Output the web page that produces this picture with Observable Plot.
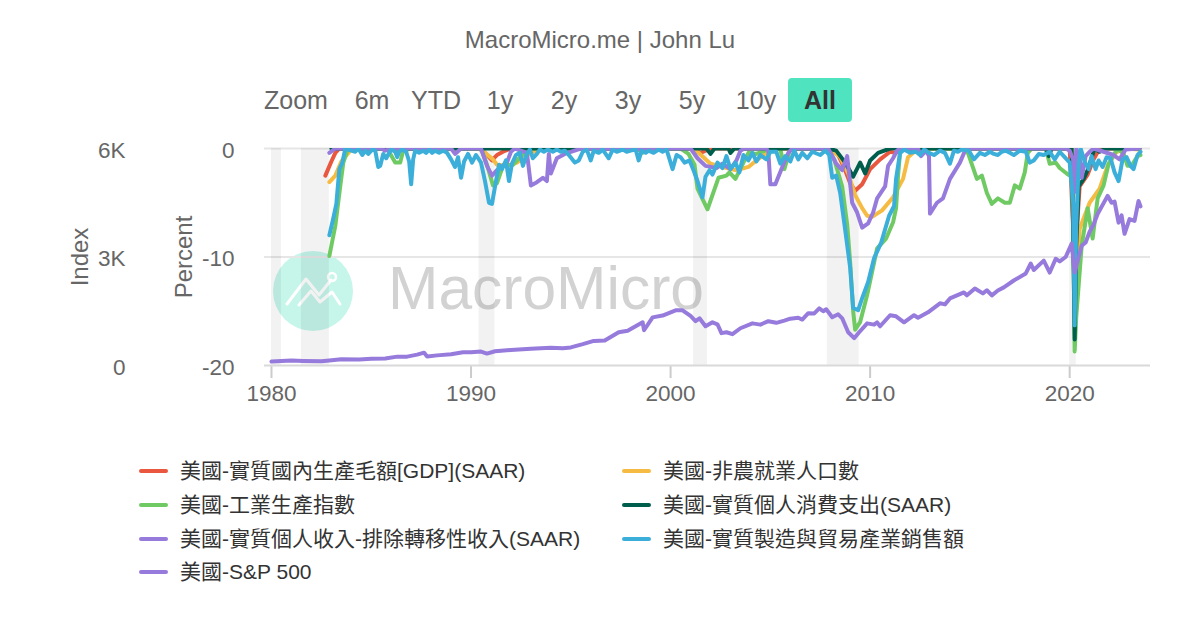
<!DOCTYPE html>
<html><head><meta charset="utf-8">
<script src="https://cdn.jsdelivr.net/npm/d3@7"></script>
<script src="https://cdn.jsdelivr.net/npm/@observablehq/plot@0.6"></script>
<style>
html,body{margin:0;padding:0;background:#fff}
body{position:relative;width:1200px;height:630px;overflow:hidden;font-family:"Liberation Sans","Noto Sans CJK TC",sans-serif;color:#666}
#title{position:absolute;left:0;width:1200px;top:26px;text-align:center;font-size:24px;line-height:28px}
.btn{position:absolute;top:78px;height:44px;line-height:44px;font-size:25px;text-align:center;width:64px}
.btn.on{background:#4fe3c0;color:#333;font-weight:bold;border-radius:4px}
#wm{position:absolute;left:0;top:0}
#chart{position:absolute;left:0;top:130px}
.lg{position:absolute;font-size:21px;line-height:24px;color:#333;white-space:nowrap}
.sw{position:absolute;width:29px;height:4px;border-radius:2px}
</style></head><body>
<div id="title">MacroMicro.me | John Lu</div>
<div id="btns"></div>
<svg id="wm" width="1200" height="630">
  <circle cx="313" cy="291" r="40" fill="#c6f5ea"/>
  <path d="M287 304 L306 279 L319 295 L331 280 M299 305 L311 291 L320 302 L332 292 L340 304" fill="none" stroke="#fff" stroke-width="3" stroke-linecap="round" stroke-linejoin="round"/>
  <circle cx="332" cy="277" r="4" fill="none" stroke="#fff" stroke-width="2.5"/>
  <text x="388" y="309" font-size="60.5" fill="#d2d2d2" font-family="Liberation Sans">MacroMicro</text>
</svg>
<div id="chart"></div>
<div id="legend"></div>
<script>
const seriesNames = ["美國-實質國內生產毛額[GDP](SAAR)","美國-非農就業人口數","美國-工業生產指數","美國-實質個人消費支出(SAAR)","美國-實質個人收入-排除轉移性收入(SAAR)","美國-實質製造與貿易產業銷售額","美國-S&P 500"];
const seriesColors = ["#e9573f","#f6bb42","#70ca63","#005e4d","#967adc","#3bafda","#967adc"];
const rangeButtons = ["6m","YTD","1y","2y","3y","5y","10y","All"];
const xTicks = [1980,1990,2000,2010,2020];
const recessions = [[1980,1980.5],[1981.5,1982.9],[1990.4,1991.2],[2001.15,2001.85],[2007.85,2009.45],[2020,2020.33]];

const gdp = [[1982.7,-2.5],[1983,-1.2],[1983.2,-0.4],[1983.4,0],[1990.4,0],[1990.7,-0.4],[1991.05,-1.1],[1991.3,-0.6],[1991.6,-0.3],[1992,0],[2001,0],[2001.5,-0.4],[2002,0],[2008,0],[2008.4,-0.6],[2008.75,-2],[2009,-3.2],[2009.25,-3.9],[2009.6,-3.3],[2010,-1.9],[2010.5,-1],[2011,-0.3],[2011.25,-0.4],[2011.7,-0.1],[2012,0],[2020,0],[2020.25,-10.5],[2020.5,-3.5],[2020.9,-2.4],[2021.2,-1],[2021.5,0],[2023.5,0]];
const payrolls = [[1982.9,-3.1],[1983.2,-2.5],[1983.5,-1.2],[1984,-0.1],[1984.3,0],[1990.4,0],[1990.7,-0.4],[1991.1,-1],[1991.3,-1.5],[1991.8,-1.6],[1992.3,-1.3],[1992.9,-0.5],[1993.5,0],[2001,0],[2001.4,-0.4],[2002,-1.4],[2002.6,-1.7],[2003.3,-2],[2003.9,-1.7],[2004.3,-1.1],[2004.8,-0.4],[2005.3,0],[2008,0],[2008.5,-0.8],[2008.9,-2.3],[2009.25,-4.3],[2009.6,-5.5],[2009.85,-6.2],[2010.1,-6.3],[2010.6,-5.7],[2011.15,-4.5],[2011.65,-2.8],[2011.9,-0.8],[2012.4,0],[2020.1,0],[2020.25,-14.5],[2020.4,-11],[2020.5,-7.4],[2021,-5],[2021.5,-3.7],[2021.9,-1.6],[2022.3,-0.4],[2022.7,0],[2023.5,-0.1]];
const indpro = [[1982.9,-9.9],[1983.2,-7.1],[1983.45,-3.4],[1983.6,-1.3],[1983.8,-0.2],[1984,0],[1985.8,0],[1986.2,-1.3],[1986.45,-1.3],[1986.6,-0.2],[1987,0],[1990.5,0],[1990.8,-1.5],[1991.1,-3.4],[1991.3,-3.2],[1991.6,-1.6],[1992.1,-1.5],[1992.5,-0.7],[1993,0],[1998.3,0],[1998.6,-0.4],[1999,0],[2000.5,0],[2000.9,-0.5],[2001.2,-1.5],[2001.35,-3.7],[2001.85,-5.6],[2002.4,-2.7],[2002.8,-2.5],[2002.95,-2.2],[2003.25,-2.8],[2003.65,-1.3],[2003.9,-0.4],[2004.3,-0.5],[2005,0],[2005.5,0],[2005.7,-1.9],[2006,0],[2007.9,0],[2008.2,-1],[2008.6,-3.5],[2008.85,-7],[2009,-10.5],[2009.15,-15],[2009.25,-16.7],[2009.5,-16],[2009.85,-13.5],[2010.35,-9.2],[2010.8,-8.3],[2011.15,-6.8],[2011.3,-5.5],[2011.4,-2.5],[2011.5,-0.4],[2011.7,0],[2014.7,0],[2014.9,-0.4],[2015.35,-2.8],[2015.6,-2.5],[2015.85,-4.1],[2016.1,-5.1],[2016.4,-4.6],[2016.75,-5],[2017,-5],[2017.25,-3.4],[2017.5,-3.7],[2017.75,-2.2],[2017.9,-0.4],[2018.1,0],[2018.8,0],[2019,-1.4],[2019.3,-1.3],[2019.5,-1.8],[2019.85,-2.3],[2020.1,-2.6],[2020.17,-6],[2020.25,-18.7],[2020.33,-15.5],[2020.6,-9],[2020.9,-5.5],[2021.15,-8.3],[2021.4,-4.6],[2021.7,-3.4],[2021.95,-1.4],[2022.4,0],[2022.7,-0.5],[2022.9,-1.6],[2023.1,-1.6],[2023.4,-0.7],[2023.55,-0.6]];
const pce = [[1983,0],[2001.8,0],[2002,-0.5],[2002.2,0],[2002.9,0],[2003,-0.4],[2003.2,0],[2007.9,0],[2008.3,-0.2],[2008.75,-1.3],[2009.15,-2.6],[2009.5,-1.3],[2009.75,-2.3],[2010,-1.1],[2010.4,-0.4],[2011,0],[2018.8,0],[2018.95,-0.7],[2019.1,0],[2020.1,0],[2020.17,-7],[2020.25,-17.6],[2020.33,-9],[2020.45,-3.5],[2020.7,-2.8],[2020.9,-2],[2021.25,0],[2021.5,-0.3],[2021.8,0],[2023.5,0]];
const income = [[1982.9,-0.4],[1983.2,0],[1985.5,0],[1985.7,-0.2],[1986,0],[1989,0],[1989.2,-0.5],[1989.5,0],[1990.5,0],[1990.8,-1.6],[1991.05,-2.5],[1991.3,-2],[1991.8,-1.3],[1992,-0.3],[1992.2,0],[1992.8,-0.4],[1993,-3.4],[1993.3,-3.1],[1993.6,-2.7],[1993.8,-3],[1993.9,-0.5],[1994,-2.3],[1994.3,-0.9],[1994.7,-0.5],[1995.5,0],[1999.5,-0.1],[2000,0],[2001,0],[2001.35,-0.9],[2001.75,-1.6],[2002.3,-1.8],[2002.6,-1.4],[2003,-1.9],[2003.3,-1.1],[2003.5,-0.2],[2003.7,0],[2004.8,0],[2004.9,-0.3],[2005,-3.3],[2005.25,-3.3],[2005.6,-1.7],[2005.9,-0.4],[2006.1,0],[2007.9,0],[2008.3,-1.4],[2008.6,-2],[2008.85,-0.7],[2009.1,-5],[2009.35,-5.9],[2009.6,-7.3],[2009.9,-6.9],[2010.15,-5.9],[2010.35,-4.6],[2010.75,-3.5],[2010.9,-1.6],[2011.15,-0.9],[2011.35,-0.2],[2011.5,0],[2012.4,0],[2012.55,-0.7],[2012.8,-0.2],[2012.95,-0.7],[2013,-6],[2013.35,-5],[2013.65,-4.6],[2014,-2.8],[2014.5,-1.3],[2014.8,0],[2019.8,0],[2020,-0.2],[2020.17,-1],[2020.25,-4],[2020.33,0],[2020.5,-0.8],[2020.6,-2.7],[2020.8,-0.7],[2021,-0.3],[2021.2,0],[2021.7,-0.3],[2022.2,-0.6],[2022.5,-1],[2022.8,-0.1],[2023.5,0]];
const sales = [[1982.9,-8],[1983.1,-6.4],[1983.25,-5.1],[1983.4,-1.9],[1983.55,-1.3],[1983.7,0],[1984,-0.2],[1984.2,-0.3],[1984.35,0],[1984.55,-0.6],[1984.7,-0.2],[1984.85,-0.5],[1985.05,-0.1],[1985.2,-0.2],[1985.35,-1.7],[1985.45,-1.6],[1985.6,-0.5],[1985.75,-0.9],[1985.9,-0.4],[1986,-0.1],[1986.2,-0.3],[1986.3,-0.8],[1986.4,-0.3],[1986.55,-0.1],[1986.75,-0.3],[1986.9,-1.2],[1987,-3.3],[1987.1,-1],[1987.2,-0.2],[1987.4,-0.4],[1987.6,-0.2],[1987.75,-0.4],[1987.9,-0.1],[1988.05,-0.4],[1988.2,-0.2],[1988.4,-0.4],[1988.6,-0.2],[1988.8,-0.4],[1989,-1],[1989.2,-1.7],[1989.35,-0.8],[1989.5,-2.7],[1989.65,-1.2],[1989.85,-0.5],[1990.05,-1.3],[1990.25,-0.6],[1990.5,-1.3],[1990.7,-3],[1990.9,-5],[1991.05,-5.1],[1991.25,-3],[1991.4,-1.5],[1991.55,-1.9],[1991.75,-1.1],[1991.9,-3],[1992.05,-1.4],[1992.25,-0.6],[1992.45,-0.4],[1992.6,-1.6],[1992.8,-0.5],[1992.95,-0.1],[1993.1,-0.9],[1993.3,-0.5],[1993.45,-0.1],[1993.65,-0.3],[1993.85,-0.1],[1994.1,-0.3],[1994.3,-0.1],[1994.5,-0.3],[1994.7,-0.2],[1994.9,-0.6],[1995.2,-1.3],[1995.4,-1.1],[1995.6,-0.3],[1995.8,-0.1],[1996,-1.1],[1996.15,-0.2],[1996.4,-0.4],[1996.6,-0.1],[1996.9,-0.9],[1997.1,-0.1],[1997.3,-0.3],[1997.6,-0.1],[1997.8,-0.3],[1998,-0.2],[1998.25,-0.1],[1998.4,-1.1],[1998.55,-0.2],[1998.75,-0.4],[1998.9,-0.2],[1999.15,-0.4],[1999.4,-0.1],[1999.6,-0.3],[1999.8,-0.1],[2000.1,-1.9],[2000.3,-0.6],[2000.5,-0.8],[2000.7,-1.3],[2000.95,-1.1],[2001.15,-2],[2001.35,-3],[2001.6,-4.5],[2001.75,-2.6],[2001.95,-2],[2002.1,-2.4],[2002.35,-1.3],[2002.6,-1.8],[2002.8,-0.7],[2003,-1.9],[2003.25,-1.3],[2003.45,-2.2],[2003.65,-0.6],[2003.9,-1.1],[2004.1,-0.4],[2004.3,-1.2],[2004.5,-0.6],[2004.8,-1],[2005,-0.3],[2005.3,-0.3],[2005.5,-1.4],[2005.75,-0.7],[2006,-1.2],[2006.2,-0.2],[2006.4,-1],[2006.6,-0.4],[2006.85,-0.9],[2007.1,-0.3],[2007.5,-0.6],[2007.75,-0.2],[2007.95,-0.6],[2008.1,-2.7],[2008.3,-2.5],[2008.5,-4.1],[2008.75,-7.5],[2009,-11],[2009.15,-14.7],[2009.4,-14.9],[2009.6,-13.8],[2009.9,-12.3],[2010.2,-10.1],[2010.55,-8.7],[2010.95,-6.2],[2011.2,-5.3],[2011.3,-2.8],[2011.5,-0.4],[2011.7,-0.1],[2012,-0.4],[2012.3,-0.3],[2012.5,-0.6],[2012.7,-0.1],[2012.95,-0.4],[2013.2,-0.6],[2013.5,-0.2],[2013.75,-0.4],[2014,-1.4],[2014.2,-0.2],[2014.4,-0.3],[2014.6,-0.1],[2014.95,-0.2],[2015.2,-1],[2015.5,-0.4],[2015.75,-0.6],[2016,-0.3],[2016.2,-0.5],[2016.4,-0.6],[2016.6,-0.3],[2016.8,-0.2],[2017,-0.4],[2017.2,-0.6],[2017.5,-0.2],[2017.8,-0.3],[2018,-1.3],[2018.2,-1.1],[2018.45,-0.5],[2018.7,-0.6],[2019,-0.3],[2019.25,-1],[2019.5,-0.3],[2019.75,-0.8],[2020,-1.3],[2020.17,-5],[2020.25,-16.3],[2020.33,-7],[2020.45,-1.5],[2020.55,0],[2020.75,-1.2],[2020.95,-1.9],[2021.1,-0.7],[2021.3,-1.9],[2021.45,-1.1],[2021.65,-1.7],[2021.85,-0.8],[2022.05,-0.9],[2022.25,-2.2],[2022.45,-3],[2022.65,-1],[2022.85,-0.8],[2023.05,-1.6],[2023.2,-1.9],[2023.4,-0.6],[2023.55,-0.3]];
const sp500 = [[1980,110],[1980.5,125],[1981,135],[1981.6,125],[1982.5,115],[1982.9,140],[1983.5,170],[1984.4,165],[1985,185],[1985.7,195],[1986.3,245],[1986.8,245],[1987.3,300],[1987.65,355],[1987.8,250],[1988.3,280],[1989,310],[1989.6,365],[1990,365],[1990.5,385],[1990.8,330],[1991.2,395],[1992,430],[1993,460],[1994,490],[1994.6,480],[1995,500],[1995.6,590],[1996.15,680],[1996.7,690],[1997.4,920],[1997.85,960],[1998.6,1195],[1998.67,975],[1999.1,1330],[1999.6,1380],[2000.25,1525],[2000.6,1525],[2001,1370],[2001.25,1225],[2001.45,1305],[2001.75,1085],[2002.1,1195],[2002.35,1140],[2002.55,895],[2002.8,920],[2003.1,865],[2003.5,1030],[2004.1,1165],[2004.5,1130],[2004.9,1225],[2005.3,1180],[2005.7,1240],[2006,1295],[2006.4,1320],[2006.6,1270],[2006.9,1445],[2007.2,1440],[2007.45,1580],[2007.65,1500],[2007.8,1555],[2008.1,1335],[2008.4,1415],[2008.6,1305],[2008.9,920],[2009.2,755],[2009.45,920],[2009.85,1165],[2010.2,1130],[2010.35,1190],[2010.5,1085],[2011,1390],[2011.3,1360],[2011.7,1195],[2012.2,1390],[2012.4,1320],[2012.9,1470],[2013.5,1720],[2013.75,1690],[2014,1855],[2014.7,2020],[2014.85,1940],[2015.25,2130],[2015.65,1995],[2015.85,2080],[2016.1,1940],[2016.4,2075],[2016.7,2160],[2017.2,2350],[2017.8,2545],[2018.05,2820],[2018.2,2640],[2018.7,2900],[2019,2570],[2019.3,2950],[2019.5,2880],[2019.8,3000],[2020.1,3370],[2020.25,2570],[2020.6,3310],[2020.8,3400],[2021,3700],[2021.2,3900],[2021.4,4190],[2021.9,4690],[2022.1,4500],[2022.25,4530],[2022.45,3950],[2022.6,4150],[2022.75,3640],[2023,4050],[2023.25,4000],[2023.45,4550],[2023.55,4400]];

const yIndex = v => v / 6000 * 20 - 20;
const lineSeries = [gdp,payrolls,indpro,pce,income,sales];
const marks = [
  Plot.ruleY([0,-10],{stroke:"#e6e6e6",strokeWidth:2}),
  Plot.rect(recessions,{x1:d=>d[0],x2:d=>d[1],y1:-20,y2:0,fill:"#000",fillOpacity:0.05}),
  Plot.axisX({ticks:xTicks,tickFormat:"d",tickSize:13,tickPadding:7,stroke:"#ccc",strokeWidth:2,label:null,fontSize:22.5,fill:"#666"}),
  Plot.ruleY([-20],{stroke:"#d9d9d9",strokeWidth:2}),
  Plot.axisY({anchor:"left",ticks:[0,-10,-20],tickSize:0,tickPadding:30,tickFormat:d=>String(d),label:null,dy:2,fontSize:22.5,fill:"#666"}),
  Plot.axisY({anchor:"left",ticks:[0,-10,-20],tickSize:0,tickPadding:139,tickFormat:d=>({0:"6K","-10":"3K","-20":"0"})[d],label:null,dy:2,fontSize:22.5,fill:"#666"}),
  Plot.axisY({anchor:"left",ticks:[],tickSize:0,label:"Percent",labelAnchor:"center",labelArrow:"none",labelOffset:90,dy:-2,fontSize:24,fill:"#666"}),
  Plot.axisY({anchor:"left",ticks:[],tickSize:0,label:"Index",labelAnchor:"center",labelArrow:"none",labelOffset:194,dy:-2,fontSize:24,fill:"#666"}),
  ...lineSeries.map((s,i)=>Plot.line(s,{x:d=>d[0],y:d=>d[1],stroke:seriesColors[i],strokeWidth:4,clip:true,curve:"linear"})),
  Plot.line(sp500,{x:d=>d[0],y:d=>yIndex(d[1]),stroke:seriesColors[6],strokeWidth:4,curve:"linear"})
];
const chart = Plot.plot({
  width:1200,height:290,marginLeft:264,marginRight:50,marginTop:18,marginBottom:55,
  style:{background:"transparent",color:"#666",fontFamily:"Liberation Sans",fontSize:"22px"},
  x:{domain:[1979.65,2024.05]},
  y:{domain:[-20,0]},
  marks
});
document.getElementById("chart").append(chart);

const btns = document.getElementById("btns");
const addBtn=(t,left,cls)=>{const e=document.createElement("div");e.className="btn"+(cls||"");e.textContent=t;e.style.left=left+"px";btns.append(e);};
const z=document.createElement("div");z.className="btn";z.style.left="264px";z.style.textAlign="left";z.textContent="Zoom";btns.append(z);
rangeButtons.forEach((t,i)=>addBtn(t,340+i*64,t==="All"?" on":""));

const lg=document.getElementById("legend");
const pos=[[139,471],[622,471],[139,505],[622,505],[139,539],[622,539],[139,572]];
seriesNames.forEach((name,k)=>{
  const [x,y]=pos[k];
  const s=document.createElement("div");s.className="sw";s.style.cssText=`left:${x}px;top:${y-2}px;background:${seriesColors[k]}`;lg.append(s);
  const t=document.createElement("div");t.className="lg";t.style.cssText=`left:${x+41}px;top:${y-12}px`;t.textContent=name;lg.append(t);
});
</script></body></html>
